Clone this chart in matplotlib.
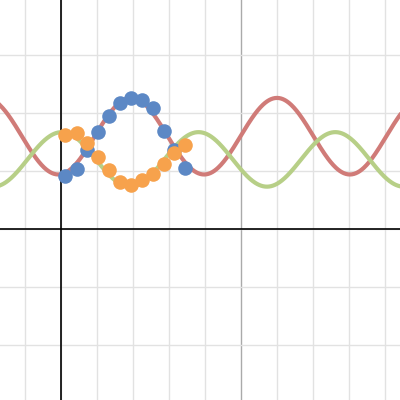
import matplotlib.pyplot as plt
import numpy as np

pt_x = [0.11, 0.44, 0.72, 1.03, 1.33, 1.64, 1.94, 2.25, 2.56, 2.86, 3.14, 3.44]
blue_y = [0.91, 1.03, 1.36, 1.67, 1.95, 2.17, 2.26, 2.22, 2.09, 1.69, 1.36, 1.05]
orange_y = [1.62, 1.66, 1.48, 1.24, 1.02, 0.81, 0.76, 0.84, 0.95, 1.12, 1.31, 1.45]

# curve parameters: center, amplitude, phase, period
red_par = (1.6, 0.66, 1.95, 4.05)
green_par = (1.2, 0.47, 0.02, 3.8)

xmin, xmax = -61 / 36, 339 / 36
ymin, ymax = -171 / 58, 229 / 58

fig = plt.figure(figsize=(4, 4), dpi=100)
ax = fig.add_axes([0, 0, 1, 1])
ax.set_xlim(xmin, xmax)
ax.set_ylim(ymin, ymax)

for gx in range(-1, 10):
    ax.axvline(gx, color='#aaaaaa' if gx == 5 else '#e2e2e2', lw=1, zorder=0)
for gy in range(-2, 4):
    ax.axhline(gy, color='#e2e2e2', lw=1, zorder=0)
ax.axhline(0, color='black', lw=1.2, zorder=1)
ax.axvline(0, color='black', lw=1.2, zorder=1)

x = np.linspace(xmin, xmax, 600)
for (c, a, p, T), col in [(red_par, '#d07b78'), (green_par, '#b7cf87')]:
    ax.plot(x, c + a * np.cos(2 * np.pi * (x - p) / T), color=col, lw=3, zorder=2)

ax.scatter(pt_x, blue_y, s=110, color='#5c88c5', zorder=3, lw=0)
ax.scatter(pt_x, orange_y, s=110, color='#f7a24c', zorder=4, lw=0)

ax.set_xticks([])
ax.set_yticks([])
for s in ax.spines.values():
    s.set_visible(False)

fig.savefig('out.png', dpi=100)
